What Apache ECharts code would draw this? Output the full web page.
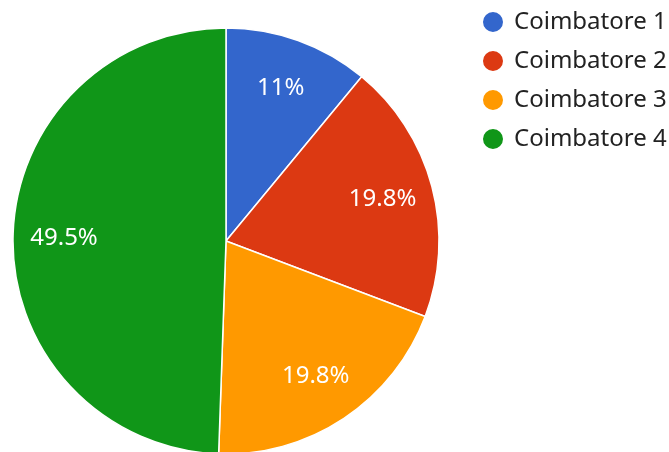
<!DOCTYPE html>
<html><head><meta charset="utf-8">
<script src="https://cdn.jsdelivr.net/npm/echarts@6/dist/echarts.min.js"></script>
<style>html,body{margin:0;padding:0;background:#fff}#c{width:669px;height:452px}</style>
</head><body><div id="c"></div>
<script>
const categories = ['Coimbatore 1', 'Coimbatore 2', 'Coimbatore 3', 'Coimbatore 4'];
const values = [10, 18, 18, 45];
const colors = ['#3366cc', '#dc3912', '#ff9900', '#109618'];

const total = values.reduce((a, b) => a + b, 0);
const fmt = v => (Math.round(v / total * 1000) / 10) + '%';
const data = categories.map((n, i) => ({ name: n, value: values[i], itemStyle: { color: colors[i] } }));

const chart = echarts.init(document.getElementById('c'), null, { renderer: 'canvas' });
chart.setOption({
  animation: false,
  textStyle: { fontFamily: 'Noto Sans' },
  legend: {
    orient: 'vertical', left: 476, top: 5,
    icon: 'circle', itemWidth: 22, itemHeight: 22, itemGap: 15,
    data: categories,
    textStyle: { fontSize: 24, lineHeight: 24, color: '#222', fontFamily: 'Noto Sans', padding: [0, 0, 0, 5] }
  },
  series: [
    {
      type: 'pie', center: [226, 241], radius: [0, 213], startAngle: 90, clockwise: true,
      data: data, label: { show: false }, labelLine: { show: false },
      itemStyle: { borderColor: '#fff', borderWidth: 1.5 }, emphasis: { disabled: true }, silent: true
    },
    {
      type: 'pie', center: [226, 241], radius: [105, 213], startAngle: 90, clockwise: true,
      data: categories.map((n, i) => ({ name: n, value: values[i], itemStyle: { color: 'rgba(0,0,0,0)' } })),
      label: { show: true, position: 'inside', color: '#fff', fontSize: 24, fontFamily: 'Noto Sans',
        formatter: p => fmt(p.value) },
      labelLine: { show: false }, emphasis: { disabled: true }, silent: true
    }
  ]
});
</script></body></html>
